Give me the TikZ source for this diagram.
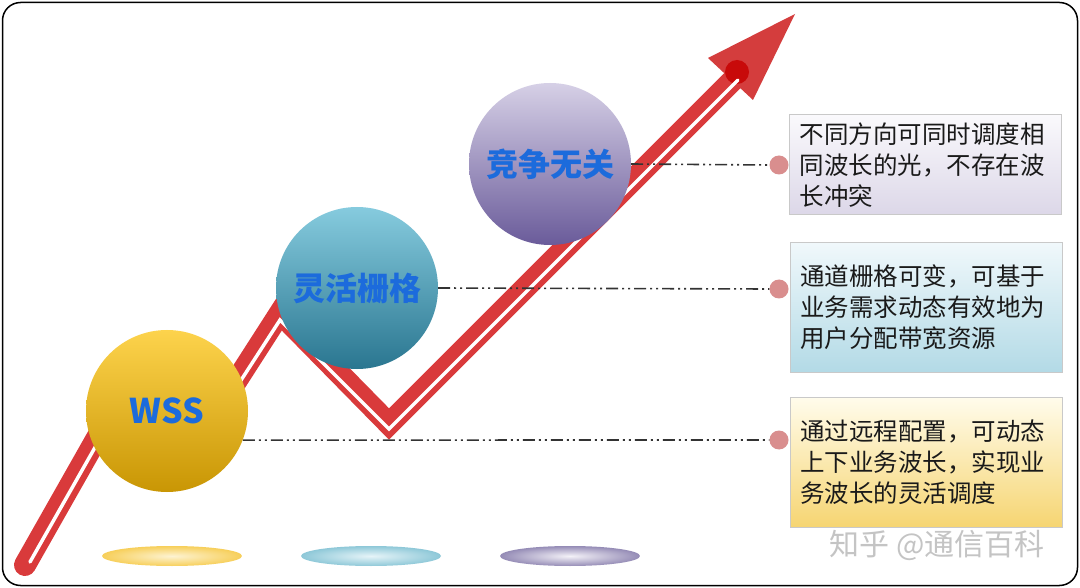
\documentclass[tikz,border=0pt]{standalone}
\usepackage{fontspec}
\newfontfamily\cjk{Noto Sans CJK SC}
\usetikzlibrary{shapes.geometric}
\definecolor{bandred}{HTML}{D93A3B}
\definecolor{headred}{HTML}{D43D3D}
\definecolor{dotred}{HTML}{C80A0A}
\definecolor{lblue}{HTML}{1C6BDC}
\definecolor{txt}{HTML}{1A1A1A}
\definecolor{pinkdot}{HTML}{D98E8E}
\definecolor{boxline}{HTML}{C9C9C9}
\definecolor{dashc}{HTML}{333333}
\definecolor{yT}{HTML}{FDD34C}\definecolor{yM}{HTML}{FCC10E}\definecolor{yB}{HTML}{C99604}
\definecolor{bT}{HTML}{86CBDE}\definecolor{bM}{HTML}{4CA5BF}\definecolor{bB}{HTML}{2A7690}
\definecolor{pT}{HTML}{D6D0E6}\definecolor{pM}{HTML}{AA9FC7}\definecolor{pB}{HTML}{6A5B9A}
\definecolor{shY}{HTML}{F7CF5A}\definecolor{shB}{HTML}{8EC8D8}\definecolor{shP}{HTML}{958CB6}
\definecolor{shYi}{HTML}{FDF3D2}\definecolor{shBi}{HTML}{E6F4F8}\definecolor{shPi}{HTML}{F4F2F8}
\definecolor{b1T}{HTML}{FAF9FC}\definecolor{b1B}{HTML}{DCD7E8}
\definecolor{b2T}{HTML}{F0F8FB}\definecolor{b2B}{HTML}{B3DAE6}
\definecolor{b3T}{HTML}{FFFCEC}\definecolor{b3M}{HTML}{FCEBAE}\definecolor{b3B}{HTML}{F6D572}
\definecolor{wmc}{HTML}{C4C4C4}
\begin{document}
\begin{tikzpicture}[x=1pt,y=-1pt,
  frame/.style={draw=black,line width=1.5pt,rounded corners=18pt},
  band/.style={draw=bandred,line width=22pt,line cap=round,line join=miter},
  stripe/.style={draw=white,line width=3.5pt,line cap=round,line join=miter},
  ball/.style={circle,minimum size=162pt,inner sep=0pt,text=lblue,
    font=\cjk\bfseries\fontsize{32}{32}\selectfont},
  ballY/.style={ball,top color=yT,middle color=yM,bottom color=yB},
  ballB/.style={ball,top color=bT,middle color=bM,bottom color=bB},
  ballP/.style={ball,top color=pT,middle color=pM,bottom color=pB},
  shadow/.style={ellipse,minimum width=140pt,minimum height=20pt,inner sep=0pt,shading=radial},
  conn/.style={draw=dashc,line width=1.6pt,dash pattern=on 12pt off 4pt on 2pt off 4pt on 2pt off 4pt},
  pdot/.style={circle,fill=pinkdot,minimum size=19pt,inner sep=0pt},
  infobox/.style={rectangle,draw=boxline,line width=1pt,minimum width=272pt,text width=252pt,
    inner xsep=10pt,align=left,text=txt,font=\cjk\fontsize{24.5}{31}\selectfont},
]
\useasboundingbox (0,0) rectangle (1080,588);
\fill[white] (0,0) rectangle (1080,588);
\draw[frame] (2.5,2.5) rectangle (1077.5,585.5);

% shadows
\node[shadow,inner color=shYi,outer color=shY] (sh1) at (172,556) {};
\node[shadow,inner color=shBi,outer color=shB] (sh2) at (371,556) {};
\node[shadow,inner color=shPi,outer color=shP] (sh3) at (570,556) {};

% zig-zag arrow
\coordinate (a0) at (25,565);
\coordinate (a1) at (110,415);
\coordinate (a2) at (192,450);
\coordinate (a3) at (280,313);
\coordinate (a4) at (389,424);
\coordinate (a5) at (738,75);
\draw[band] (a0) -- (a1) -- (a2) -- (a3) -- (a4) -- (a5);
\coordinate (h1) at (708,58);
\coordinate (h2) at (795,14);
\coordinate (h3) at (753,100);
\fill[headred] (h1) -- (h2) -- (h3) -- cycle;
\fill[dotred] (737,72) circle (12pt);
\coordinate (w0) at (30,562);
\coordinate (w1) at (110,421);
\coordinate (w2) at (192,456);
\coordinate (w3) at (280,320);
\coordinate (w4) at (389,429);
\coordinate (w5) at (738,80);
\draw[stripe] (w0) -- (w1) -- (w2) -- (w3) -- (w4) -- (w5);

% spheres
\node[ballY,font=\cjk\bfseries\fontsize{34}{34}\selectfont] (s1) at (167,411) {WSS};
\node[ballB] (s2) at (357,288) {灵活栅格};
\node[ballP] (s3) at (550,164) {竞争无关};

% boxes
\node[infobox,minimum height=100pt,top color=b1T,bottom color=b1B] (b1) at (925.5,165)
  {不同方向可同时调度相\\同波长的光，不存在波\\长冲突};
\node[infobox,minimum height=129pt,top color=b2T,bottom color=b2B] (b2) at (926,307.5)
  {通道栅格可变，可基于\\业务需求动态有效地为\\用户分配带宽资源};
\node[infobox,minimum height=130pt,top color=b3T,middle color=b3M,bottom color=b3B] (b3) at (926,462)
  {通过远程配置，可动态\\上下业务波长，实现业\\务波长的灵活调度};

% pink dots
\node[pdot] (d1) at (779,165) {};
\node[pdot] (d2) at (779,289) {};
\node[pdot] (d3) at (779,440) {};

% connectors
\draw[conn] (s3.east) -- (d1.west);
\draw[conn] (s2.east) -- (d2.west);
\draw[conn] (s1.-21) -- (d3.west);

% watermark
\node[text=wmc,font=\cjk\fontsize{30}{30}\selectfont] (wm) at (937,545) {知乎 @通信百科};
\end{tikzpicture}
\end{document}
